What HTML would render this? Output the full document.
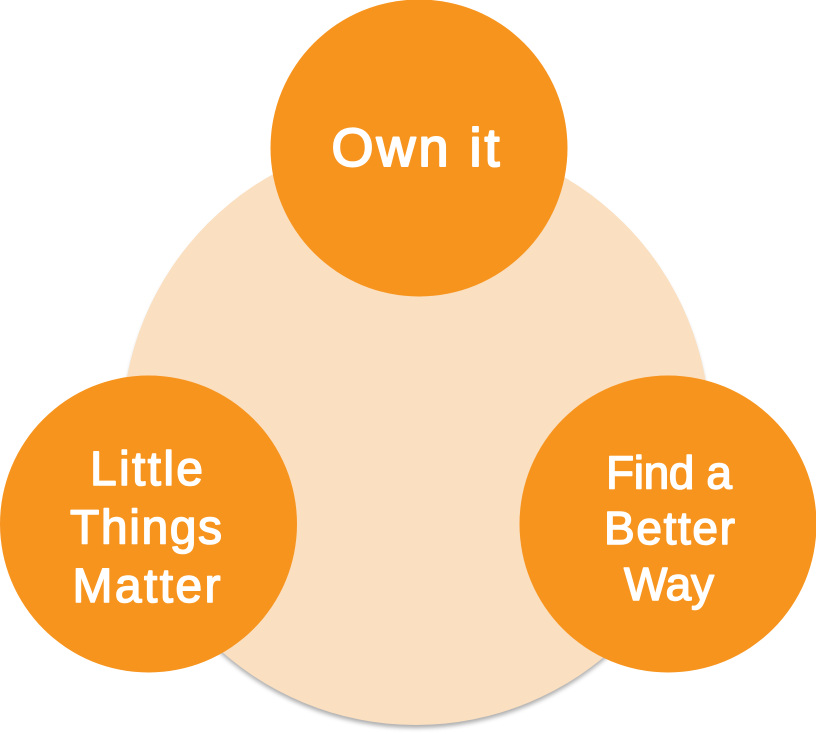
<!DOCTYPE html>
<html>
<head>
<meta charset="utf-8">
<style>
html,body{margin:0;padding:0;background:#fff;width:816px;height:734px;overflow:hidden}
svg{display:block}
text{font-family:"Liberation Sans",sans-serif;fill:#fff;stroke:#fff;stroke-linejoin:round;text-anchor:middle}
</style>
</head>
<body>
<svg width="816" height="734" viewBox="0 0 816 734">
<defs>
<filter id="s" x="-5%" y="-5%" width="110%" height="110%">
<feGaussianBlur stdDeviation="2.200"/>
</filter>
</defs>
<circle cx="416" cy="435" r="293" fill="#808080" opacity="0.65" filter="url(#s)"/>
<circle cx="416" cy="431" r="294" fill="#fadfc0"/>
<circle cx="419" cy="148" r="148.5" fill="#f7941e"/>
<circle cx="148.500" cy="524" r="148.500" fill="#f7941e"/>
<circle cx="668" cy="524" r="148.500" fill="#f7941e"/>
<text x="415.500" y="166" font-size="54" stroke-width="2" textLength="168" lengthAdjust="spacing">Own it</text>
<text x="146.500" y="485" font-size="48" stroke-width="1.500" textLength="113" lengthAdjust="spacing">Little</text>
<text x="146" y="543.500" font-size="48" stroke-width="1.500" textLength="152" lengthAdjust="spacing">Things</text>
<text x="146.500" y="602" font-size="48" stroke-width="1.500" textLength="148" lengthAdjust="spacing">Matter</text>
<text x="669" y="488.500" font-size="46" stroke-width="1.500" textLength="126" lengthAdjust="spacing">Find a</text>
<text x="669.500" y="544" font-size="46" stroke-width="1.500" textLength="131" lengthAdjust="spacing">Better</text>
<text x="669" y="600" font-size="46" stroke-width="1.500" textLength="90" lengthAdjust="spacing">Way</text>
</svg>
</body>
</html>
